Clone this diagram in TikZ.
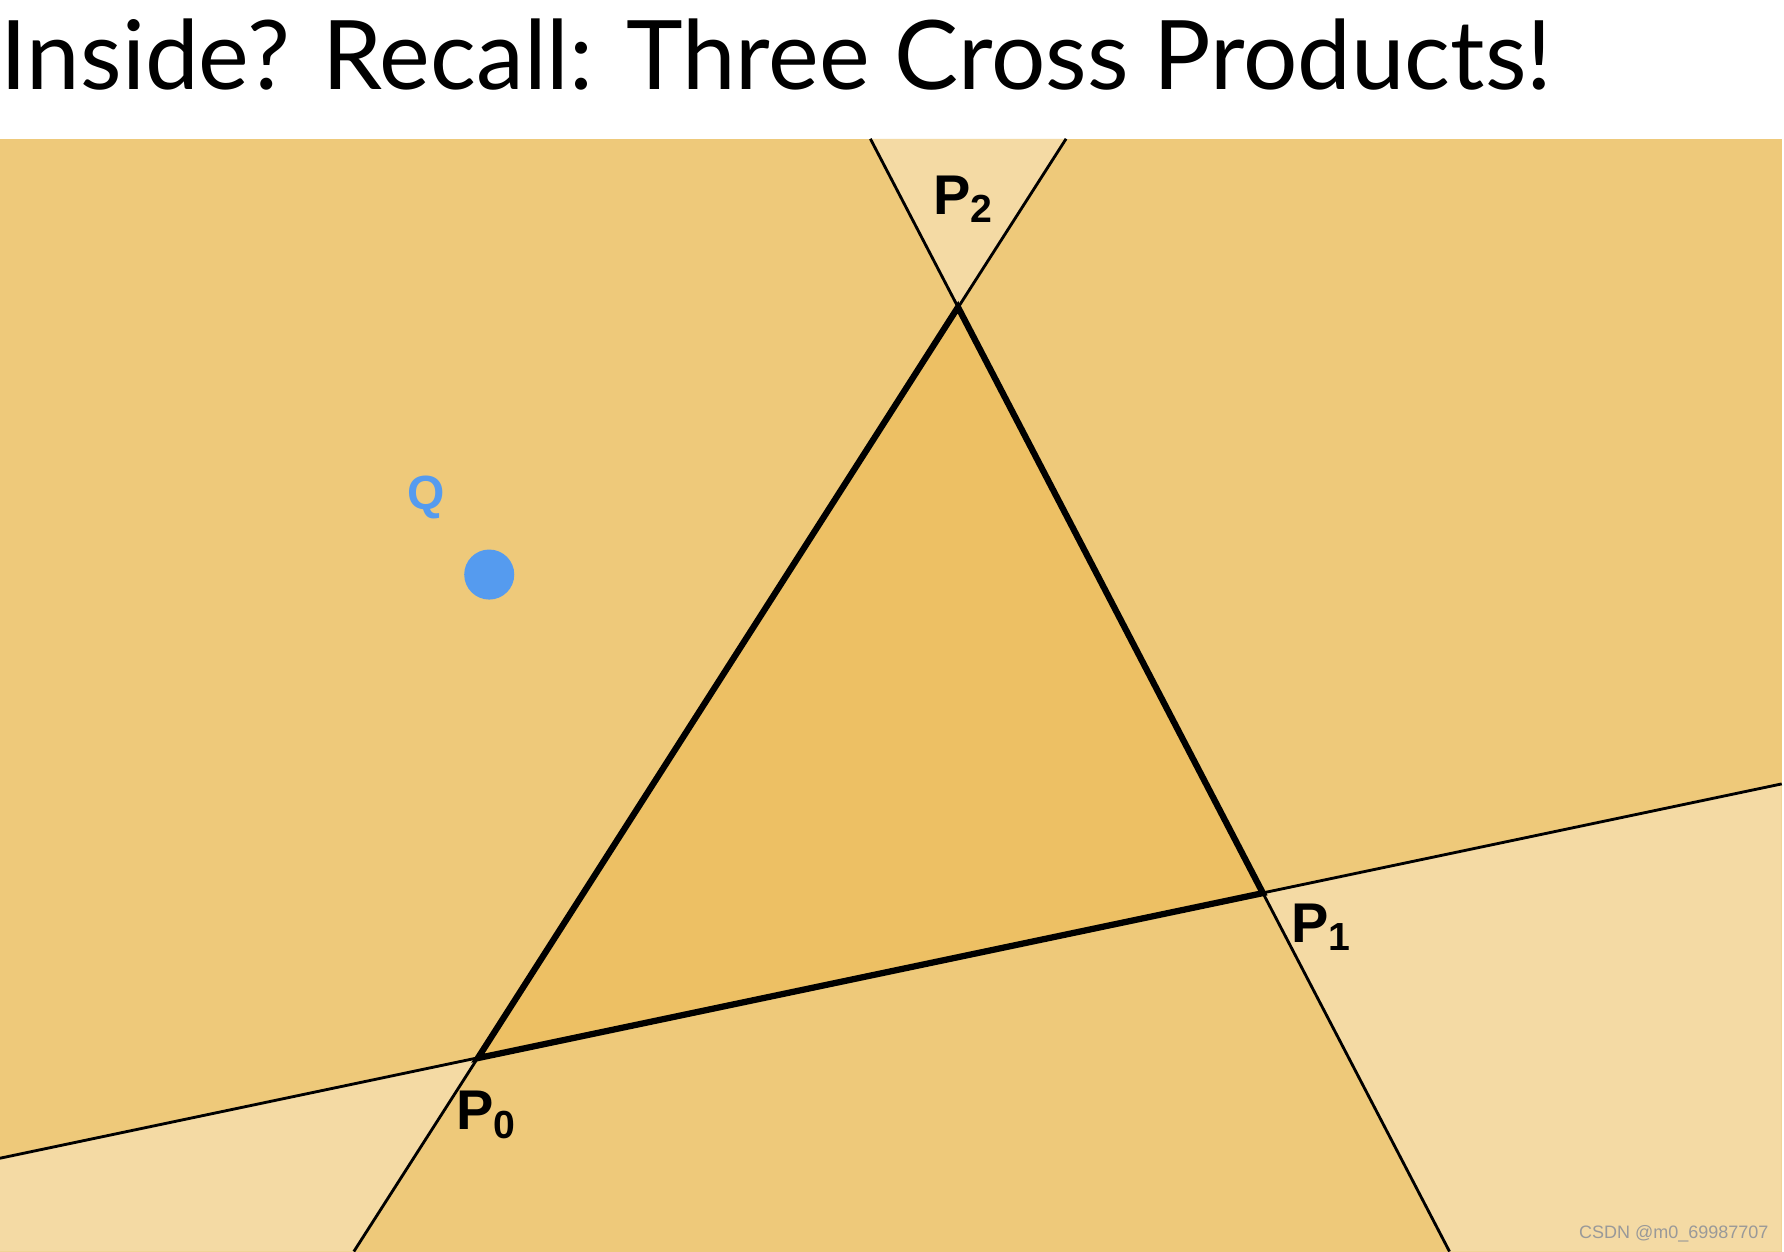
\documentclass[tikz,border=0pt]{standalone}
\usepackage{fontspec}
\setmainfont{Liberation Sans}
\newfontfamily\titlefont{Lato}
\definecolor{midor}{HTML}{EEC97A}
\definecolor{lightor}{HTML}{F4DAA4}
\definecolor{darkor}{HTML}{EDC064}
\definecolor{qblue}{HTML}{559BEF}
\tikzset{thinline/.style={black,line width=0.25mm},thickline/.style={black,line width=0.55mm,line join=miter},
lab/.style={font=\fontsize{14}{14}\selectfont\bfseries,inner sep=0}}
\begin{document}
\begin{tikzpicture}[x=0.1mm,y=-0.1mm]
\useasboundingbox (0,0) rectangle (1568,1100);
\fill[white] (0,0) rectangle (1568,1100);
\coordinate (P0) at (420,930);
\coordinate (P1) at (1110,785);
\coordinate (P2) at (842,270);
\fill[midor] (0,122) rectangle (1566,1100);
\fill[lightor] (P2) -- (765,122) -- (937,122) -- cycle;
\fill[lightor] (P1) -- (1566,689) -- (1566,1100) -- (1274,1100) -- cycle;
\fill[lightor] (P0) -- (0,1018) -- (0,1100) -- (311,1100) -- cycle;
\fill[darkor] (P0) -- (P1) -- (P2) -- cycle;
\draw[thinline] (311,1100) -- (937,122);
\draw[thinline] (765,122) -- (1274,1100);
\draw[thinline] (0,1018) -- (1566,689);
\draw[thickline] (P0) -- (P1) -- (P2) -- cycle;
\node[lab,anchor=center] (l2) at (847,175) {P\textsubscript{2}};
\node[lab,anchor=center] (l1) at (1162,815) {P\textsubscript{1}};
\node[lab,anchor=center] (l0) at (428,980) {P\textsubscript{0}};
\node[lab,text=qblue,font=\fontsize{12}{12}\selectfont\bfseries] (q) at (375,437) {Q};
\fill[qblue] (430,505) circle (22);
\node[anchor=west,inner sep=0,font=\titlefont\fontsize{24}{24}\selectfont] (title) at (0,48) {Inside? Recall: Three Cross Products!};
\node[anchor=east,inner sep=0,text=gray!80,font=\fontsize{4.5}{5}\selectfont] (wm) at (1555,1084) {CSDN @m0\_69987707};
\end{tikzpicture}
\end{document}
